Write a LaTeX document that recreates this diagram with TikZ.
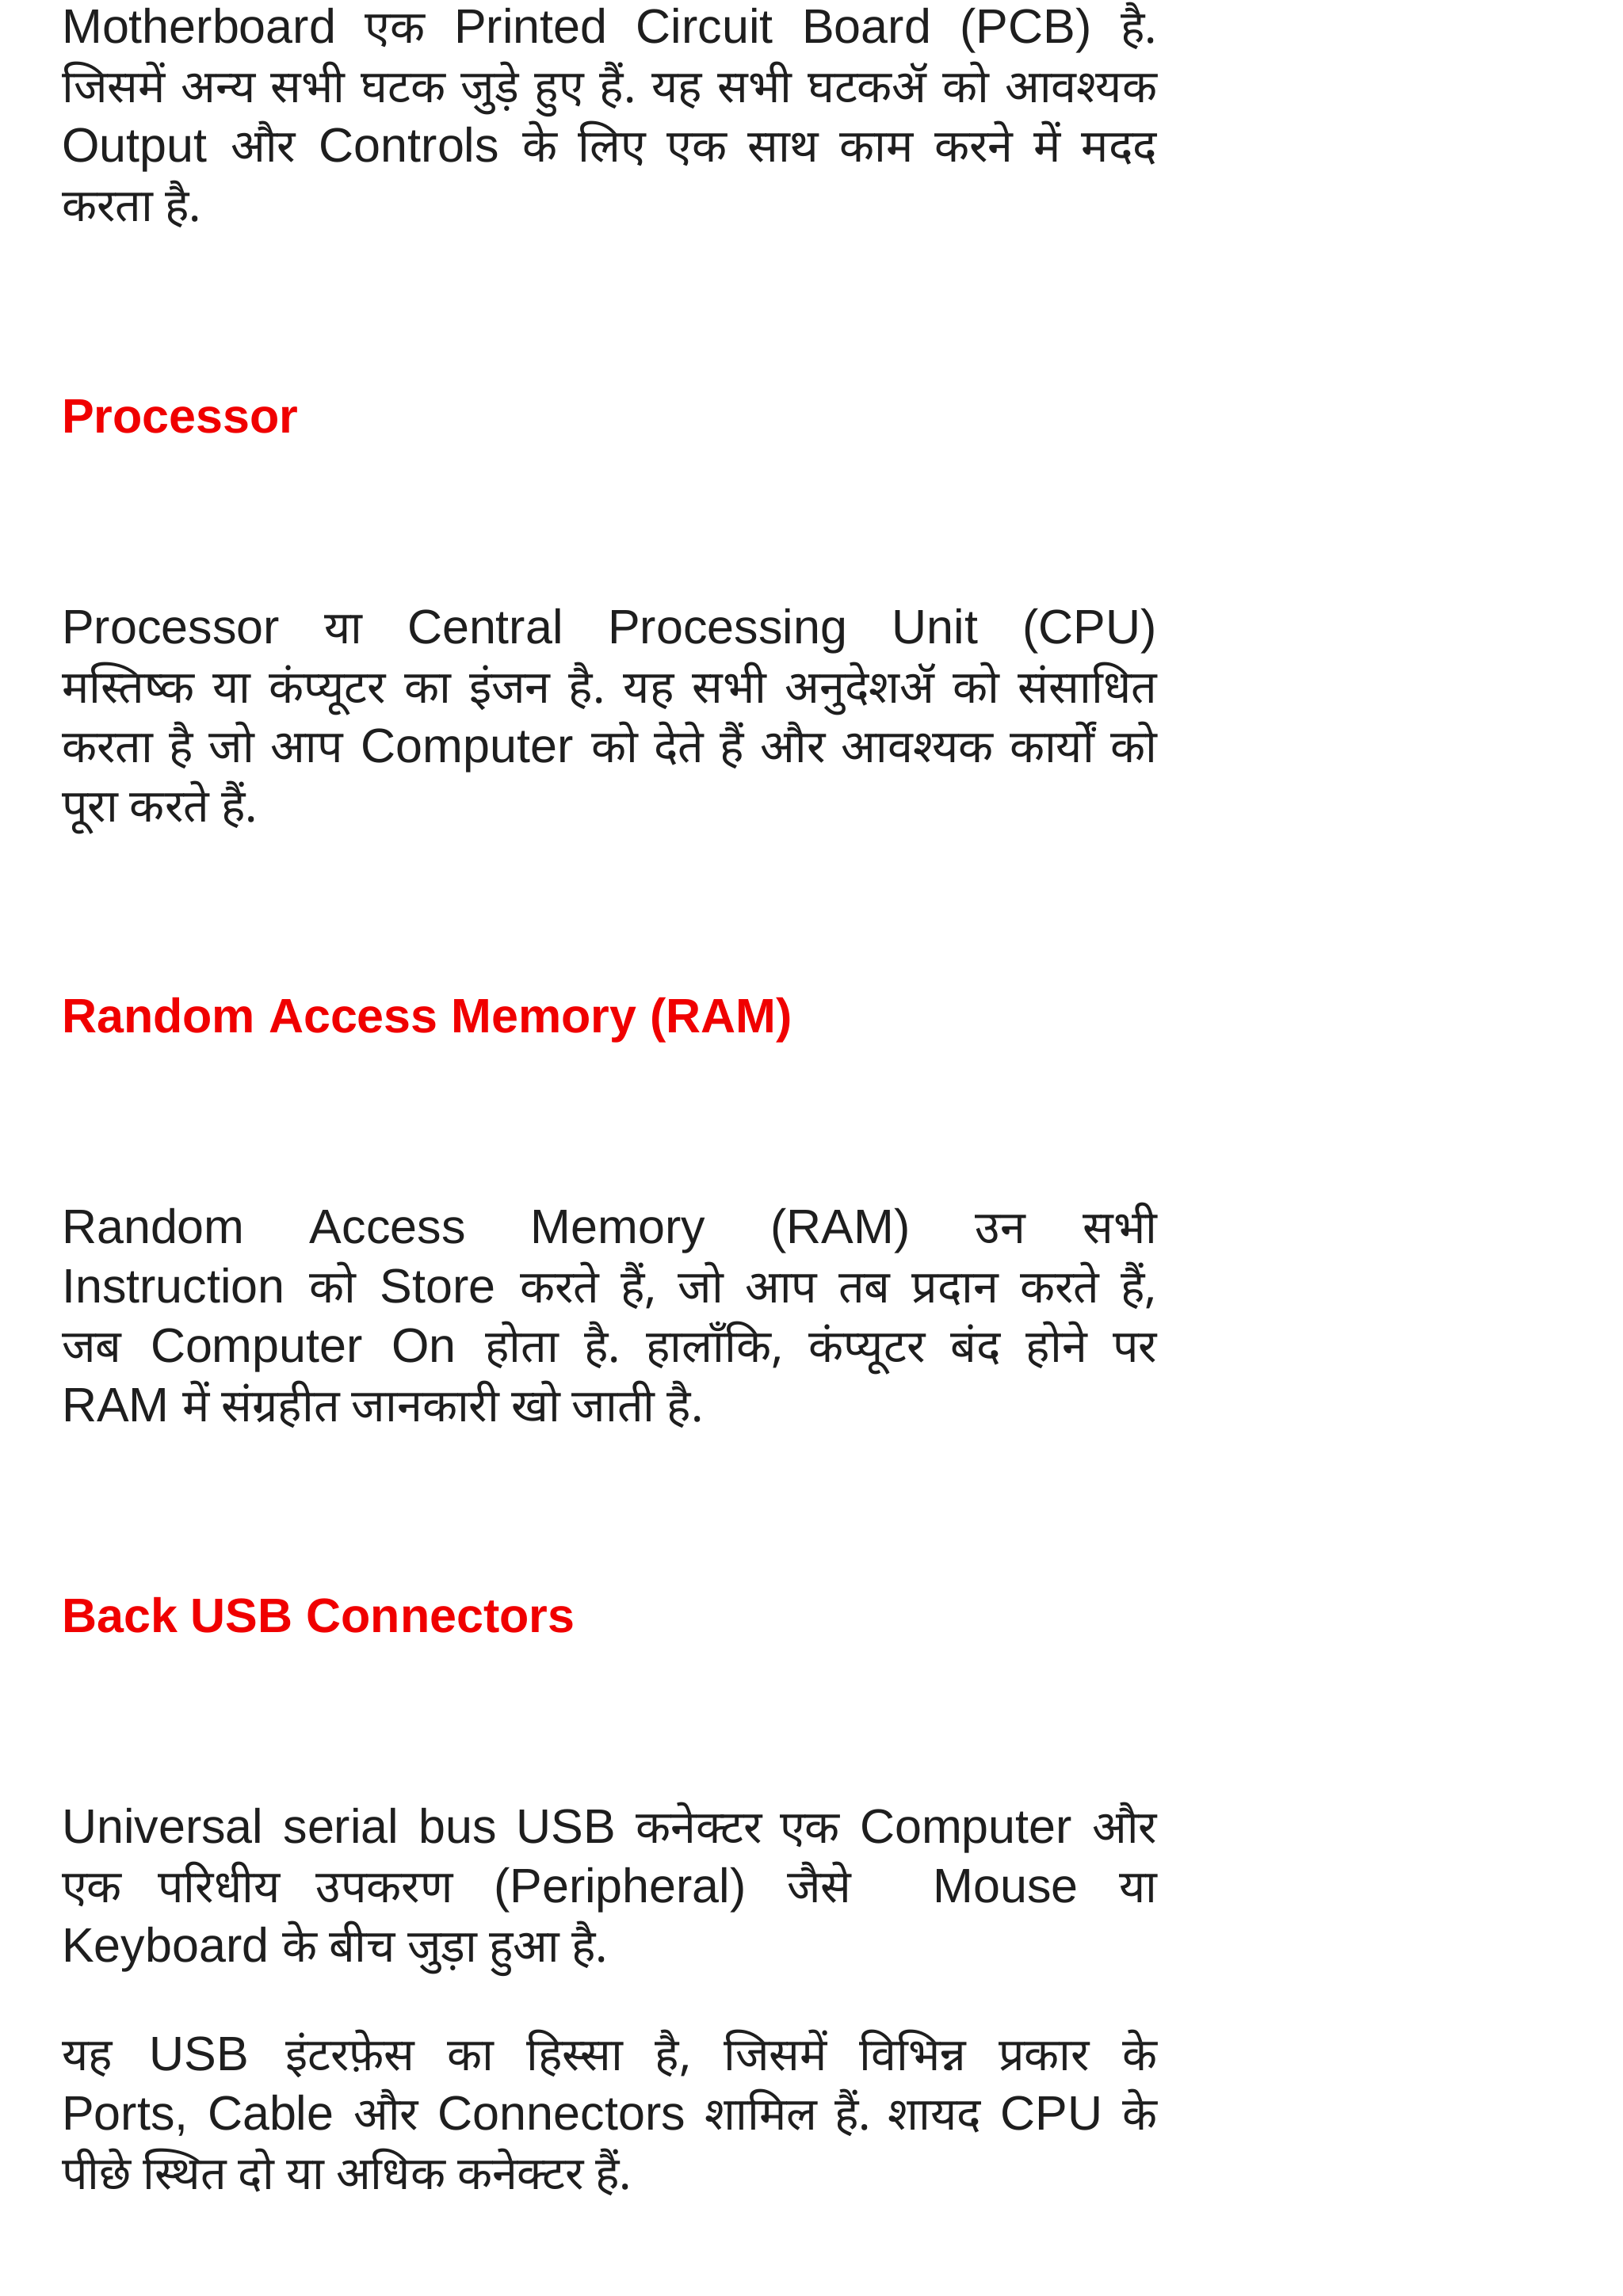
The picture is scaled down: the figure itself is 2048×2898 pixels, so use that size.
\documentclass[tikz,border=0pt]{standalone}
\usepackage{fontspec}
\setmainfont{Liberation Sans}
\newfontfamily\hi[Script=Devanagari,Scale=0.94]{Noto Sans}
\definecolor{headred}{RGB}{240,0,0}
\definecolor{bodytxt}{RGB}{30,30,30}
\tikzset{para/.style={anchor=base west,inner sep=0pt,text=bodytxt},
 head/.style={anchor=base west,inner sep=0pt,text=headred,font=\fontsize{61bp}{75bp}\selectfont\bfseries}}
\newcommand{\bodypar}[1]{\parbox[t]{1382bp}{\fontsize{61bp}{75bp}\selectfont\frenchspacing\emergencystretch=3em\hyphenpenalty=10000\tolerance=9999 #1}}
\begin{document}
\begin{tikzpicture}
\fill[white] (0,0) rectangle (2048bp,-2898bp);
\useasboundingbox (0,0) rectangle (2048bp,-2898bp);
\node[para] (p1) at (78bp,-54bp) {\bodypar{Motherboard {\hi एक} Printed Circuit Board (PCB) {\hi है.}\linebreak {\hi जिसमें अन्य सभी घटक जुड़े हुए हैं. यह सभी घटकॲ को आवश्यक}\linebreak Output {\hi और} Controls {\hi के लिए एक साथ काम करने में मदद}\linebreak {\hi करता है.}}};
\node[head] (h1) at (78bp,-546bp) {Processor};
\node[para] (p2) at (78bp,-812bp) {\bodypar{Processor {\hi या} Central Processing Unit (CPU)\linebreak {\hi मस्तिष्क या कंप्यूटर का इंजन है. यह सभी अनुदेशॲ को संसाधित}\linebreak {\hi करता है जो आप} Computer {\hi को देते हैं और आवश्यक कार्यों को}\linebreak {\hi पूरा करते हैं.}}};
\node[head] (h2) at (78bp,-1303bp) {Random Access Memory (RAM)};
\node[para] (p3) at (78bp,-1569bp) {\bodypar{Random Access Memory (RAM) {\hi उन सभी}\linebreak Instruction {\hi को} Store {\hi करते हैं, जो आप तब प्रदान करते हैं,}\linebreak {\hi जब} Computer On {\hi होता है. हालाँकि, कंप्यूटर बंद होने पर}\linebreak RAM {\hi में संग्रहीत जानकारी खो जाती है.}}};
\node[head] (h3) at (78bp,-2060bp) {Back USB Connectors};
\node[para] (p4) at (78bp,-2326bp) {\bodypar{Universal serial bus USB {\hi कनेक्टर एक} Computer {\hi और}\linebreak {\hi एक परिधीय उपकरण} (Peripheral) {\hi जैसे}\ \ Mouse {\hi या}\linebreak Keyboard {\hi के बीच जुड़ा हुआ है.}}};
\node[para] (p5) at (78bp,-2613bp) {\bodypar{{\hi यह} USB {\hi इंटरफ़ेस का हिस्सा है, जिसमें विभिन्न प्रकार के}\linebreak Ports, Cable {\hi और} Connectors {\hi शामिल हैं. शायद} CPU {\hi के}\linebreak {\hi पीछे स्थित दो या अधिक कनेक्टर हैं.}}};
\end{tikzpicture}
\end{document}
